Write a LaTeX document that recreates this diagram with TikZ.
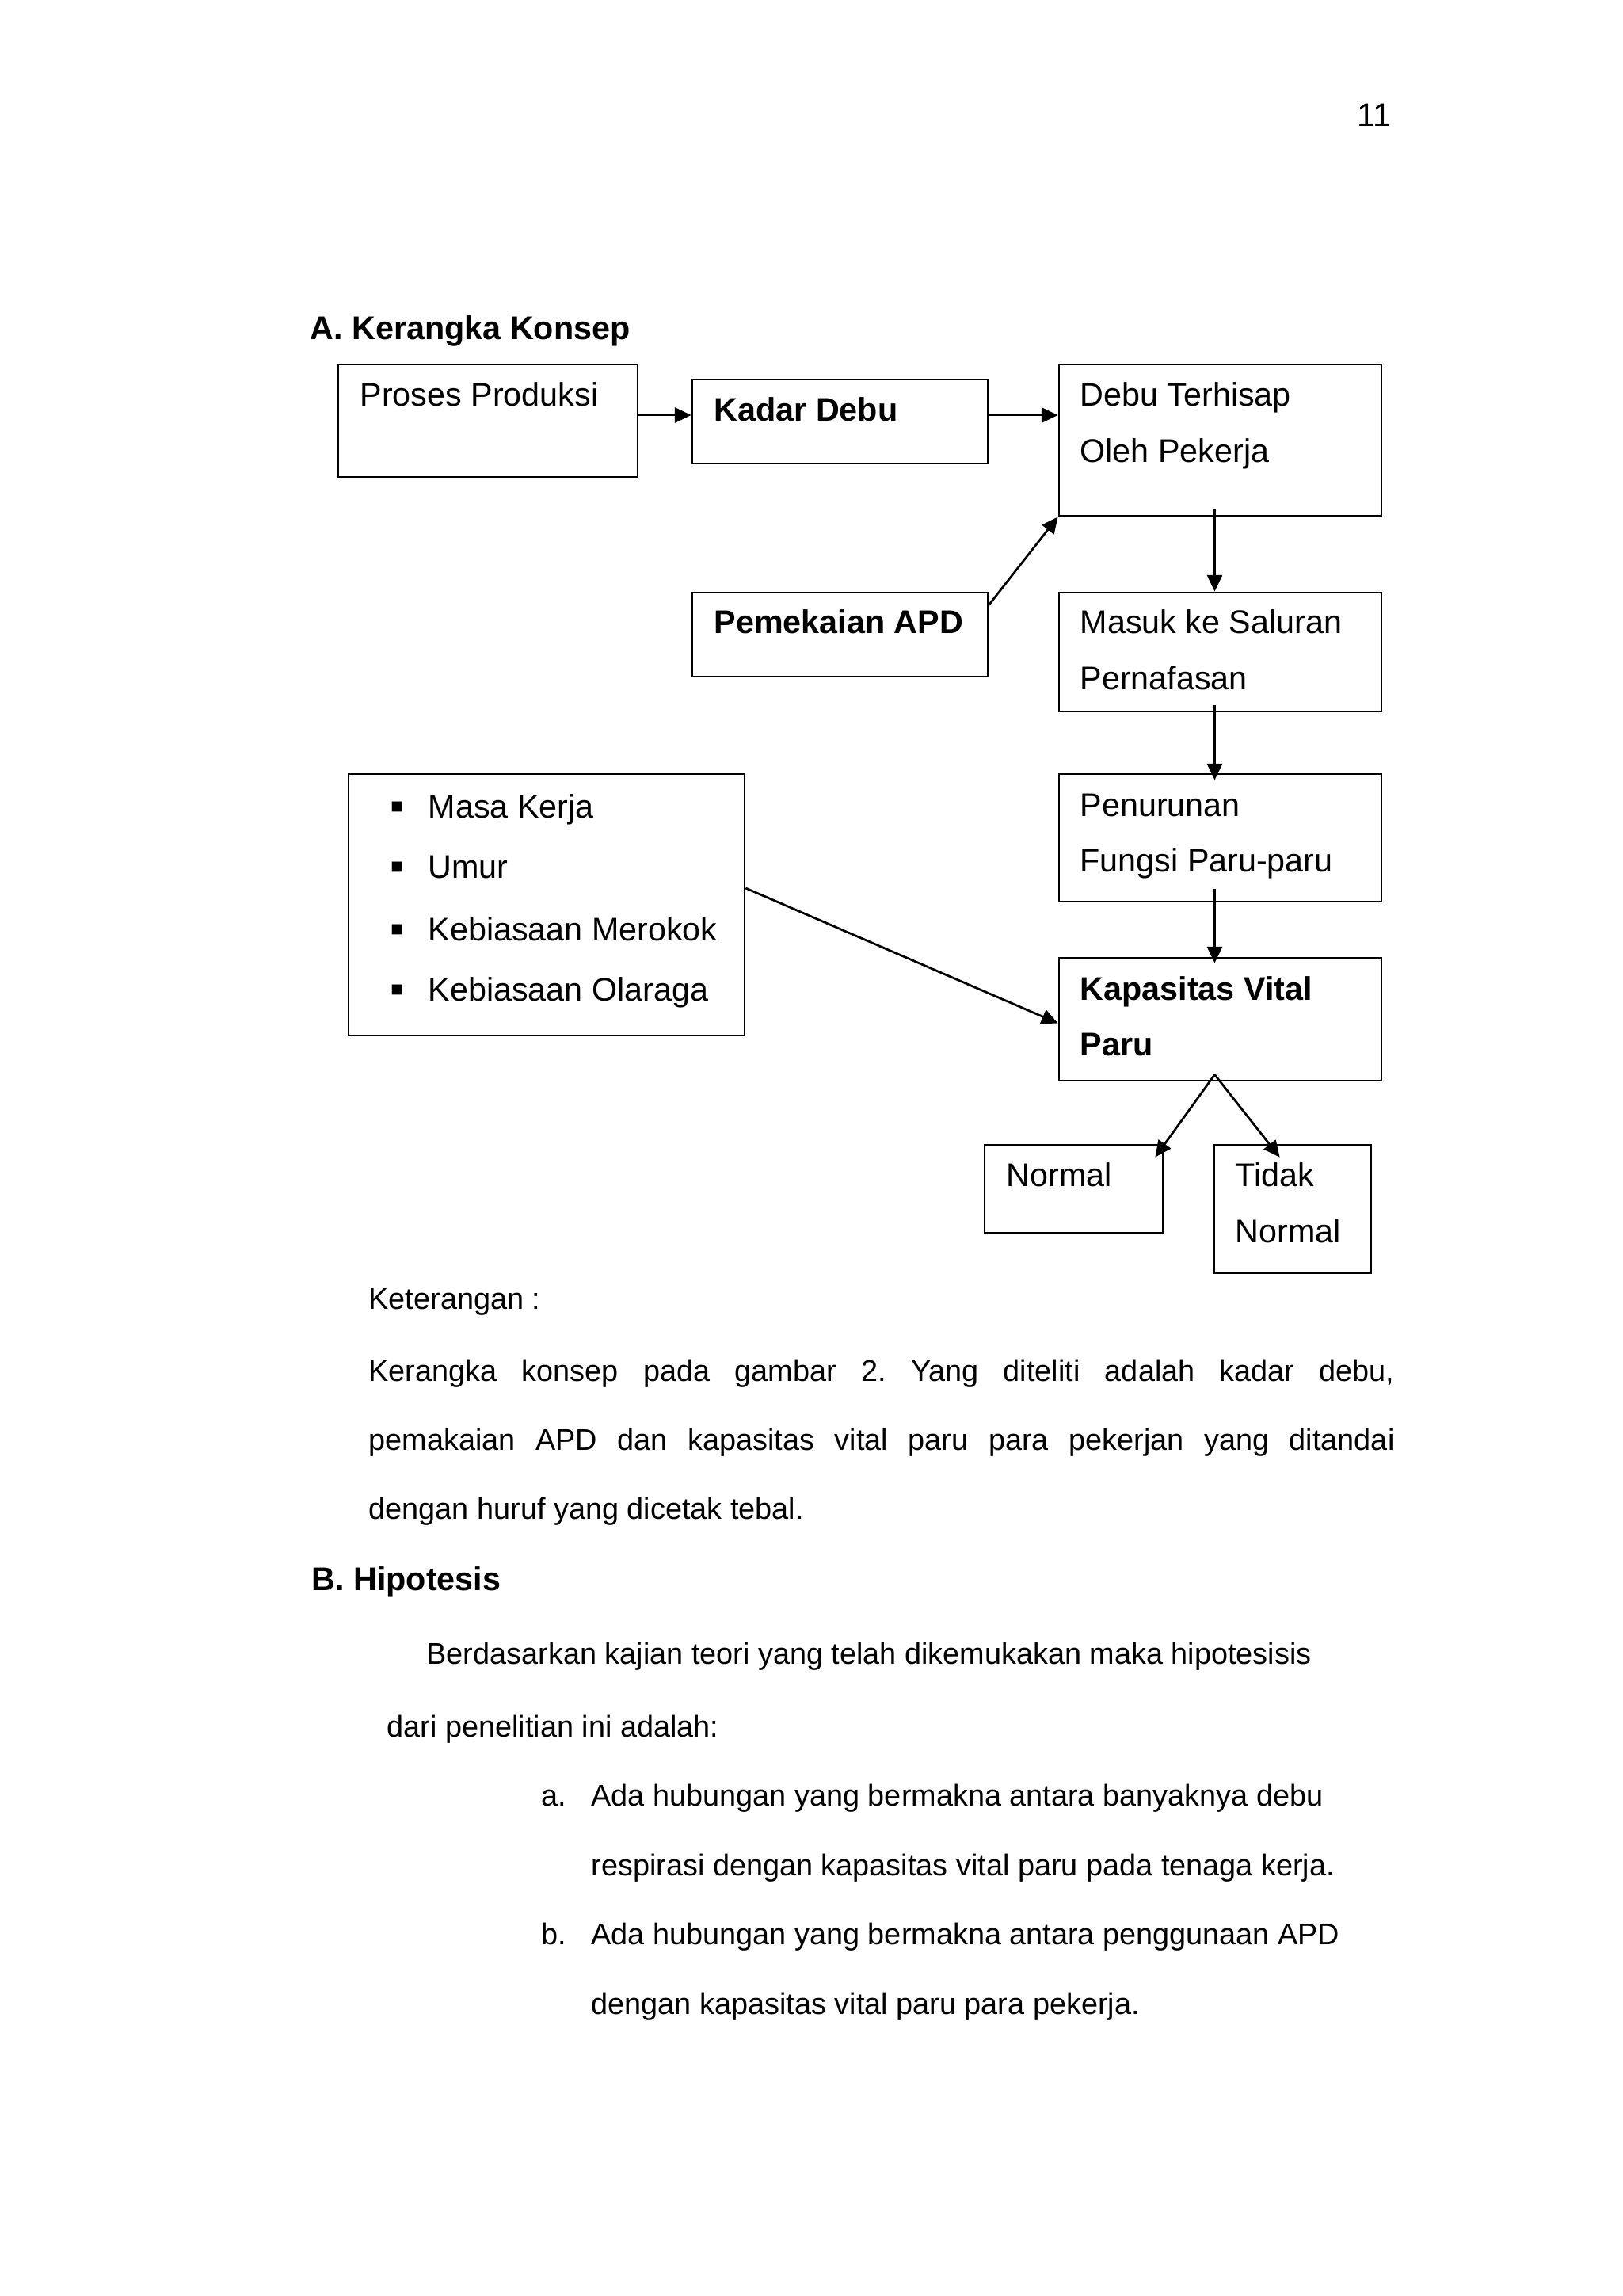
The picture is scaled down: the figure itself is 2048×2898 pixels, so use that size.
\documentclass[tikz,border=0pt]{standalone}
\usepackage{fontspec}
\setmainfont{Liberation Sans}
\frenchspacing
\usetikzlibrary{arrows.meta,fit,calc}
\begin{document}
\begin{tikzpicture}[x=0.290664pt,y=-0.290664pt,
  every node/.style={font=\fontsize{12}{14.4}\selectfont, inner sep=0pt},
  box/.style={draw, line width=0.8pt, inner sep=0pt, rectangle},
  txt/.style={anchor=base west},
  body/.style={anchor=base west, font=\fontsize{11}{13.2}\selectfont},
  bold/.style={font=\fontsize{12}{14.4}\selectfont\bfseries},
  bul/.style={anchor=base west, font=\fontsize{15}{18}\selectfont},
  arr/.style={line width=0.8pt, -{Triangle[length=6pt,width=5.5pt]}},
  ]
\useasboundingbox[fill=white] (0,0) rectangle (2048,2898);

% page number
\node[anchor=base east] (pg) at (1757,159) {11};

% heading A
\node[txt, bold] (ha) at (391,428) {A. Kerangka Konsep};

% boxes
\node[box, fit={(427,460) (805,602)}] (pp) {};
\node[box, fit={(874,479) (1247,585)}] (kd) {};
\node[box, fit={(1337,460) (1744,651)}] (dt) {};
\node[box, fit={(874,748) (1247,854)}] (apd) {};
\node[box, fit={(1337,748) (1744,898)}] (ms) {};
\node[box, fit={(440,977) (940,1307)}] (ls) {};
\node[box, fit={(1337,977) (1744,1138)}] (pf) {};
\node[box, fit={(1337,1209) (1744,1364)}] (kv) {};
\node[box, fit={(1243,1445) (1468,1556)}] (nm) {};
\node[box, fit={(1533,1445) (1731,1607)}] (tn) {};

% box texts
\node[txt] (tpp) at (454,512) {Proses Produksi};
\node[txt, bold] (tkd) at (901,531) {Kadar Debu};
\node[txt] (tdt1) at (1363,512) {Debu Terhisap};
\node[txt] (tdt2) at (1363,583) {Oleh Pekerja};
\node[txt, bold] (tapd) at (901,799) {Pemekaian APD};
\node[txt] (tms1) at (1363,799) {Masuk ke Saluran};
\node[txt] (tms2) at (1363,870) {Pernafasan};
\node[txt] (tpf1) at (1363,1030) {Penurunan};
\node[txt] (tpf2) at (1363,1100) {Fungsi Paru-paru};
\node[txt, bold] (tkv1) at (1363,1262) {Kapasitas Vital};
\node[txt, bold] (tkv2) at (1363,1332) {Paru};
\node[txt] (tnm) at (1270,1497) {Normal};
\node[txt] (ttn1) at (1559,1497) {Tidak};
\node[txt] (ttn2) at (1559,1568) {Normal};

% list
\node[bul] (b1) at (492,1034) {▪};
\node[txt] (l1) at (540,1032) {Masa Kerja};
\node[bul] (b2) at (492,1110) {▪};
\node[txt] (l2) at (540,1108) {Umur};
\node[bul] (b3) at (492,1189) {▪};
\node[txt] (l3) at (540,1187) {Kebiasaan Merokok};
\node[bul] (b4) at (492,1265) {▪};
\node[txt] (l4) at (540,1263) {Kebiasaan Olaraga};

% connectors
\coordinate (r1) at (0,524);
\draw[arr] (pp.east |- r1) -- (kd.west |- r1);
\draw[arr] (kd.east |- r1) -- (dt.west |- r1);
\draw[arr] ($(dt.south)+(-7,-9)$) -- ($(ms.north)+(-7,0)$);
\draw[arr] ($(ms.south)+(-7,-9)$) -- ($(pf.north)+(-7,9)$);
\draw[arr] ($(pf.south)+(-7,-17)$) -- ($(kv.north)+(-7,8)$);
\draw[arr] ($(apd.north east)+(0,17)$) -- (dt.south west);
\draw[arr] ($(ls.east)+(0,-21)$) -- ($(kv.west)+(0,5)$);
\coordinate (apex) at ($(kv.south)+(-7,-9)$);
\draw[arr] (apex) -- ($(nm.north east)+(-11,17)$);
\draw[arr] (apex) -- ($(tn.north west)+(84,17)$);

% body text
\node[body] (ket) at (465,1652) {Keterangan :};
\node[body] (p1) at (465,1743) {\makebox[376.4pt][s]{Kerangka konsep pada gambar 2. Yang diteliti adalah kadar debu,}};
\node[body] (p2) at (465,1830) {\makebox[376.4pt][s]{pemakaian APD dan kapasitas vital paru para pekerjan yang ditandai}};
\node[body] (p3) at (465,1917) {dengan huruf yang dicetak tebal.};

\node[txt, bold] (hb) at (393,2007) {B. Hipotesis};
\node[body] (q1) at (538,2100) {Berdasarkan kajian teori yang telah dikemukakan maka hipotesisis};
\node[body] (q2) at (488,2192) {dari penelitian ini adalah:};
\node[body] (qa) at (683,2279) {a.};
\node[body] (qa1) at (746,2279) {Ada hubungan yang bermakna antara banyaknya debu};
\node[body] (qa2) at (746,2367) {respirasi dengan kapasitas vital paru pada tenaga kerja.};
\node[body] (qb) at (683,2454) {b.};
\node[body] (qb1) at (746,2454) {Ada hubungan yang bermakna antara penggunaan APD};
\node[body] (qb2) at (746,2542) {dengan kapasitas vital paru para pekerja.};
\end{tikzpicture}
\end{document}
